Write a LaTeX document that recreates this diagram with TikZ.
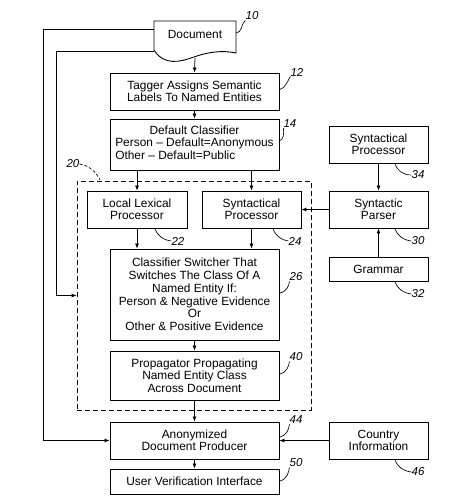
\documentclass[tikz,border=0pt]{standalone}
\usepackage{fontspec}
\setmainfont{Liberation Sans}
\usetikzlibrary{arrows.meta}
\begin{document}
\begin{tikzpicture}[x=1pt,y=-1pt,
  box/.style={draw,line width=0.9pt,inner sep=0pt,align=center,
    font=\fontsize{11.9}{12.4}\selectfont},
  conn/.style={line width=0.75pt,-{Latex[length=5pt,width=4pt]}},
  lead/.style={line width=0.65pt},
  num/.style={font=\fontsize{11.5}{12}\selectfont\itshape,inner sep=0pt}]
\useasboundingbox (0,0) rectangle (474,504);
% document shape
\draw[line width=0.9pt] (154,50) -- (154,21) -- (236,21) -- (236,53)
  .. controls (222,50) and (208,52) .. (194,57)
  .. controls (180,62) and (164,66) .. (154,50);
\node[font=\fontsize{11.9}{12.4}\selectfont] (doc) at (195,34) {Document};
\coordinate (dbot) at (195,58);
\coordinate (d1) at (154,29);
\coordinate (d2) at (154,51);
\coordinate (c1) at (43,29);
\coordinate (c2) at (56,51);
% boxes
\node[box,minimum width=169,minimum height=37] (tag) at (194.5,91.5) {Tagger Assigns Semantic\\Labels To Named Entities};
\node[box,minimum width=169,minimum height=51] (dc) at (194.5,144.5) {\begin{tabular}{@{}l@{}}\multicolumn{1}{@{}c@{}}{Default Classifier}\\Person -- Default=Anonymous\\Other -- Default=Public\end{tabular}};
\node[draw,dashed,dash pattern=on 5pt off 3pt,line width=0.75pt,minimum width=234,minimum height=229,inner sep=0pt] (grp) at (194,295.5) {};
\node[box,minimum width=100,minimum height=37] (lex) at (137,209.5) {Local Lexical\\Processor};
\node[box,minimum width=99,minimum height=37] (syn) at (251.5,209.5) {Syntactical\\Processor};
\node[box,minimum width=169,minimum height=91,font=\fontsize{11.9}{12.8}\selectfont] (sw) at (194.5,294.5) {Classifier Switcher That\\Switches The Class Of A\\Named Entity If:\\Person \& Negative Evidence\\Or\\Other \& Positive Evidence};
\node[box,minimum width=169,minimum height=49] (prop) at (194.5,375.5) {Propagator Propagating\\Named Entity Class\\Across Document};
\node[box,minimum width=169,minimum height=37] (anon) at (194.5,440.5) {Anonymized\\Document Producer};
\node[box,minimum width=169,minimum height=25] (ver) at (194.5,481.5) {User Verification Interface};
\node[box,minimum width=99,minimum height=37] (sp) at (378.5,144.5) {Syntactical\\Processor};
\node[box,minimum width=99,minimum height=37] (par) at (378.5,209.5) {Syntactic\\Parser};
\node[box,minimum width=99,minimum height=24] (gram) at (378.5,269) {Grammar};
\node[box,minimum width=99,minimum height=37] (ctry) at (378.5,440.5) {Country\\Information};
% connectors
\draw[conn] (dbot) -- (tag.north);
\draw[conn] (tag.south) -- (dc.north);
\draw[conn] (lex |- dc.south) -- (lex.north);
\draw[conn] (syn |- dc.south) -- (syn.north);
\draw[conn] (lex.south) -- (lex.south |- sw.north);
\draw[conn] (syn.south) -- (syn.south |- sw.north);
\draw[conn] (sw.south) -- (prop.north);
\draw[conn] (prop.south) -- (anon.north);
\draw[conn] (anon.south) -- (ver.north);
\draw[conn] (sp.south) -- (par.north);
\draw[conn] (gram.north) -- (par.south);
\draw[conn] (par.west) -- (syn.east);
\draw[conn] (ctry.west) -- (anon.east);
\draw[conn] (d1) -- (c1) -- (c1 |- anon.west) -- (anon.west);
\draw[conn] (d2) -- (c2) -- (c2 |- grp.west) -- (grp.west);
% reference numbers
\node[num] (n10) at (252,16) {10};
\draw[lead] (236,33) .. controls (242,33) and (241,24) .. (n10.south west);
\node[num] (n12) at (297,72) {12};
\draw[lead] (279,90) .. controls (286,88) and (288,80) .. (n12.south west);
\node[num] (n14) at (290,124) {14};
\draw[lead] (279,141) .. controls (284,140) and (284,133) .. (n14.south west);
\node[num] (n20) at (73,164) {20};
\draw[lead,dashed,dash pattern=on 3pt off 2pt] (n20.east) .. controls (90,166) and (96,172) .. (100,180);
\node[num] (n22) at (178,241) {22};
\draw[lead] (155,229) .. controls (158,236) and (163,240) .. (n22.west);
\node[num] (n24) at (295,241) {24};
\draw[lead] (273,229) .. controls (276,236) and (281,240) .. (n24.west);
\node[num] (n26) at (296,277) {26};
\draw[lead] (280,293) .. controls (287,291) and (289,286) .. (n26.south west);
\node[num] (n40) at (296,357) {40};
\draw[lead] (280,374) .. controls (287,372) and (289,366) .. (n40.south west);
\node[num] (n44) at (296,420) {44};
\draw[lead] (280,437) .. controls (287,435) and (289,429) .. (n44.south west);
\node[num] (n50) at (296,463) {50};
\draw[lead] (280,481) .. controls (287,479) and (289,472) .. (n50.south west);
\node[num] (n34) at (418,175) {34};
\draw[lead] (395,164) .. controls (398,171) and (403,175) .. (n34.west);
\node[num] (n30) at (418,241) {30};
\draw[lead] (395,229) .. controls (398,236) and (403,240) .. (n30.west);
\node[num] (n32) at (418,294) {32};
\draw[lead] (395,282) .. controls (398,289) and (403,293) .. (n32.west);
\node[num] (n46) at (418,472) {46};
\draw[lead] (395,460) .. controls (398,467) and (403,471) .. (n46.west);
\end{tikzpicture}
\end{document}
